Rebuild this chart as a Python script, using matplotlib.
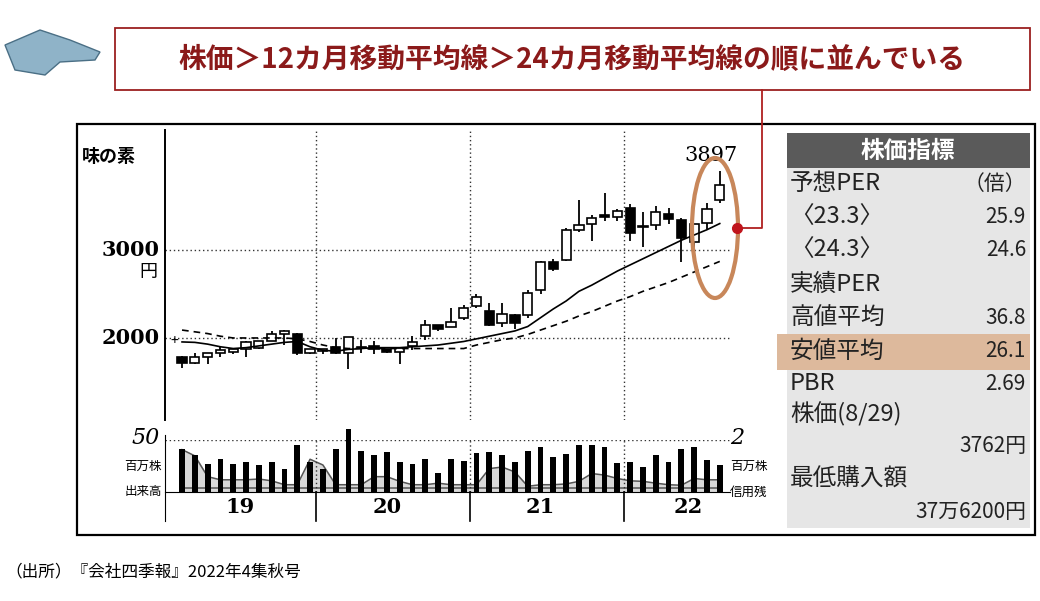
import matplotlib
matplotlib.use("Agg")
import matplotlib.pyplot as plt
from matplotlib.patches import Rectangle, Ellipse, Polygon

plt.rcParams["font.family"] = ["Noto Sans CJK JP", "DejaVu Sans"]

W, H = 1040, 601

# monthly candles, Feb 2019 .. Aug 2022
opens = [1780, 1710, 1780, 1830, 1840, 1870, 1890, 1960, 2040, 2050, 1830,
         1850, 1900, 1830, 1900, 1910, 1870, 1840, 1910, 2020, 2150, 2130, 2230,
         2360, 2310, 2170, 2260, 2260, 2550, 2860, 2890, 3230, 3290, 3400, 3380,
         3480, 3270, 3280, 3410, 3340, 3090, 3310, 3570]
highs = [1790, 1830, 1830, 1900, 1880, 1960, 1960, 2080, 2090, 2060, 1880,
         1880, 2000, 2010, 1980, 1960, 1870, 1890, 2020, 2200, 2150, 2340, 2380,
         2500, 2400, 2400, 2270, 2540, 2880, 2900, 3250, 3570, 3400, 3650, 3470,
         3520, 3430, 3500, 3480, 3360, 3290, 3530, 3897]
lows = [1660, 1700, 1700, 1780, 1820, 1780, 1880, 1960, 1920, 1810, 1820,
        1820, 1820, 1650, 1830, 1820, 1830, 1700, 1860, 1980, 2080, 2130, 2200,
        2340, 2140, 2130, 2100, 2230, 2500, 2760, 2880, 3200, 3100, 3330, 3330,
        3100, 3030, 3230, 3290, 2860, 2860, 3240, 3530]
closes = [1710, 1780, 1830, 1860, 1870, 1950, 1960, 2050, 2080, 1830, 1870,
          1870, 1830, 2010, 1890, 1870, 1840, 1890, 1950, 2150, 2100, 2180, 2340,
          2470, 2150, 2270, 2170, 2510, 2860, 2780, 3230, 3280, 3360, 3380, 3440,
          3190, 3260, 3430, 3350, 3140, 3290, 3470, 3740]
ma12 = [1955, 1950, 1930, 1900, 1880, 1890, 1910, 1930, 1950, 1960, 1900,
        1860, 1850, 1870, 1880, 1890, 1890, 1890, 1900, 1910, 1920, 1940, 1960,
        1990, 2020, 2050, 2080, 2130, 2230, 2330, 2420, 2530, 2600, 2680, 2760,
        2830, 2900, 2970, 3040, 3110, 3170, 3230, 3300]
ma24 = [2090, 2070, 2050, 2020, 2000, 2000, 2000, 2000, 2000, 1990, 1960,
        1920, 1890, 1880, 1880, 1880, 1880, 1880, 1880, 1880, 1880, 1880, 1880,
        1920, 1950, 1980, 2000, 2040, 2090, 2140, 2190, 2250, 2300, 2360, 2420,
        2470, 2530, 2580, 2630, 2690, 2750, 2810, 2870]
volume = [41.4, 35.3, 27, 32.2, 27, 29.1, 26, 29.1, 22.4, 44.8, 28.5,
          22.4, 41.4, 60.7, 39.3, 35.3, 38.3, 28.5, 27, 31.6, 18.7, 32.2, 30,
          37.7, 38.3, 35.6, 28.5, 39.3, 43.3, 34, 36.2, 44.8, 45.4, 42.9, 27.9,
          28.5, 23.9, 35.6, 28.5, 41.4, 42.9, 31, 26]
margin_buy = [1.63, 1.39, 0.59, 0.47, 0.47, 0.47, 0.50, 0.43, 0.28, 0.28, 1.26,
              1.04, 0.28, 0.28, 0.28, 0.59, 0.59, 0.41, 0.28, 0.28, 0.34, 0.28, 0.28,
              0.28, 0.90, 0.96, 0.77, 0.22, 0.28, 0.28, 0.31, 0.41, 0.71, 0.65,
              0.52, 0.43, 0.41, 0.34, 0.28, 0.26, 0.52, 0.47, 0.47]
margin_sell = [0.16] * 43
years = ["19", "20", "21", "22"]
year_centers = [4.5, 16.0, 28.0, 39.5]
year_lines = [10.5, 22.5, 34.5]

fig = plt.figure(figsize=(W / 100, H / 100), dpi=100)


def fx(x):
    return x / W


def fy(y):
    return 1 - y / H


def ftext(x, y, s, **kw):
    fig.text(fx(x), fy(y), s, **kw)


# outer chart frame
fig.patches.append(Rectangle((fx(77), fy(535)), fx(958), (535 - 124) / H,
                             transform=fig.transFigure, fill=False, lw=1.6, ec="black"))

# callout header
fig.patches.append(Rectangle((fx(115), fy(90)), fx(915), 62 / H,
                             transform=fig.transFigure, fill=False, lw=1.3, ec="#9b2020"))
ftext(572, 60, "株価＞12カ月移動平均線＞24カ月移動平均線の順に並んでいる",
      ha="center", va="center", fontsize=20, color="#8b1a1a", fontweight="bold")
# pointing hand (simplified)
hand = [(5, 45), (40, 30), (70, 40), (100, 52), (95, 60), (60, 62), (45, 75), (15, 70)]
fig.patches.append(Polygon([(fx(a), fy(b)) for a, b in hand], closed=True,
                           transform=fig.transFigure, fc="#8fb3c8", ec="#4a6f85", lw=1))

# price panel
n = len(opens)
x = list(range(n))
ax = fig.add_axes([fx(165), fy(420), fx(565), 290 / H])
ax.set_xlim(-1.33, 42.8)
ax.set_ylim(1068, 4363)
for i in x:
    o, c = opens[i], closes[i]
    ax.vlines(i, lows[i], highs[i], color="black", lw=1.3, zorder=2)
    ax.bar(i, max(abs(c - o), 12), bottom=min(o, c), width=0.72,
           color="black" if c < o else "white", edgecolor="black", lw=1.2, zorder=3)
ax.plot(x, ma12, color="black", lw=1.2, zorder=4)
ax.plot(x, ma24, color="black", lw=1.2, ls=(0, (4, 3)), zorder=4)
for lvl in (2000, 3000):
    ax.axhline(lvl, color="#333333", lw=1, ls=(0, (1, 2)), zorder=1)
for xl in year_lines:
    ax.axvline(xl, color="#333333", lw=1, ls=(0, (1, 2)), zorder=1)
for s in ("top", "right", "bottom"):
    ax.spines[s].set_visible(False)
ax.spines["left"].set_linewidth(1.4)
ax.set_xticks([])
ax.set_yticks([])
ax.text(41.3, 3960, "3897", ha="center", va="bottom", fontsize=15, family="DejaVu Serif")
ax.text(-0.6, 1960, "+", ha="center", va="center", fontsize=10)

ftext(82, 157, "味の素", fontsize=13, fontweight="bold", va="center")
ftext(160, 250, "3000", fontsize=15, fontweight="bold", family="DejaVu Serif",
      ha="right", va="center")
ftext(148, 272, "円", fontsize=13, ha="center", va="center")
ftext(160, 338, "2000", fontsize=15, fontweight="bold", family="DejaVu Serif",
      ha="right", va="center")

# volume panel
vax = fig.add_axes([fx(165), fy(492), fx(565), 52 / H])
vax.set_xlim(-1.33, 42.8)
vax.set_ylim(0, 50)
scale = 50 / 2
vax.fill_between(x, [m * scale for m in margin_buy], 0, color="#d9d9d9", zorder=1)
vax.plot(x, [m * scale for m in margin_buy], color="#555555", lw=1.1, zorder=2)
vax.plot(x, [m * scale for m in margin_sell], color="#555555", lw=1.1, zorder=2)
vax.bar(x, volume, width=0.45, color="black", zorder=3, clip_on=False)
vax.axhline(50, color="#333333", lw=1, ls=(0, (1, 2)))
for xl in year_lines:
    vax.axvline(xl, color="#333333", lw=1, ls=(0, (1, 2)))
    vax.plot([xl, xl], [0, -28], color="black", lw=1.2, clip_on=False)
for xc, lab in zip(year_centers, years):
    vax.text(xc, -14, lab, ha="center", va="center", fontsize=15,
             fontweight="bold", family="DejaVu Serif", clip_on=False)
vax.spines["top"].set_visible(False)
vax.spines["right"].set_visible(False)
vax.spines["left"].set_bounds(-28, 55)
vax.set_xticks([])
vax.set_yticks([])
ftext(160, 438, "50", fontsize=16, style="italic", family="DejaVu Serif",
      ha="right", va="center")
ftext(162, 466, "百万株", fontsize=9, ha="right", va="center")
ftext(162, 492, "出来高", fontsize=9, ha="right", va="center")
ftext(730, 438, "2", fontsize=16, style="italic", family="DejaVu Serif", va="center")
ftext(730, 466, "百万株", fontsize=9, va="center")
ftext(730, 492, "信用残", fontsize=9, va="center")

# highlight ellipse and connector
fig.patches.append(Ellipse((fx(715), fy(228)), fx(46), 140 / H, transform=fig.transFigure,
                           fill=False, ec="#c8875a", lw=3))
fig.lines.append(plt.Line2D([fx(762), fx(762), fx(737)], [fy(90), fy(228), fy(228)],
                            transform=fig.transFigure, color="#b02020", lw=1.3))
fig.lines.append(plt.Line2D([fx(737)], [fy(228)], transform=fig.transFigure,
                            marker="o", ms=7, color="#c0141c"))

# indicator panel
fig.patches.append(Rectangle((fx(787), fy(528)), fx(243), (528 - 133) / H,
                             transform=fig.transFigure, fc="#e6e6e6", ec="none"))
fig.patches.append(Rectangle((fx(787), fy(168)), fx(243), 35 / H,
                             transform=fig.transFigure, fc="#5a5a5a", ec="none"))
fig.patches.append(Rectangle((fx(777), fy(370)), fx(253), 36 / H,
                             transform=fig.transFigure, fc="#ddb99c", ec="none"))
ftext(908, 151, "株価指標", fontsize=17, fontweight="bold", color="white",
      ha="center", va="center")
labels = [(184, "予想PER", "（倍）"), (217, "〈23.3〉", "25.9"), (250, "〈24.3〉", "24.6"),
          (284, "実績PER", ""), (318, "高値平均", "36.8"), (351, "安値平均", "26.1"),
          (384, "PBR", "2.69"), (414, "株価(8/29)", ""), (446, "", "3762円"),
          (479, "最低購入額", ""), (512, "", "37万6200円")]
for yy, left, right in labels:
    if left:
        ftext(790, yy, left, fontsize=17, va="center", color="#222222")
    if right:
        ftext(1026, yy, right, fontsize=15, va="center", ha="right", color="#222222")

ftext(5, 572, "（出所）『会社四季報』2022年4集秋号", fontsize=12, va="center")

fig.savefig("out.png", dpi=100)
